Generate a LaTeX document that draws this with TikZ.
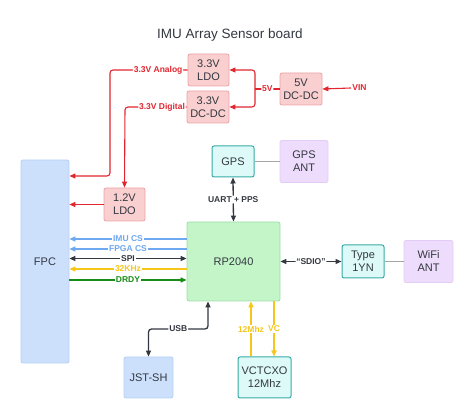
\documentclass[tikz,border=0pt]{standalone}
\usepackage{fontspec}
\setmainfont{Liberation Sans}
\usepackage{xcolor}
\usepackage{tikz}
\usetikzlibrary{shapes,arrows.meta,positioning,calc}

\definecolor{txt}{HTML}{333840}
\definecolor{pwr}{HTML}{E2262F}
\definecolor{pfill}{HTML}{F9CFCF}
\definecolor{pdraw}{HTML}{EBA3A6}
\definecolor{bfill}{HTML}{CCE0FC}
\definecolor{bdraw}{HTML}{B5CFF5}
\definecolor{gfill}{HTML}{C4F5C8}
\definecolor{gdraw}{HTML}{9EDDA6}
\definecolor{tfill}{HTML}{DDFAF8}
\definecolor{tdraw}{HTML}{36ABA5}
\definecolor{vfill}{HTML}{EDDCFB}
\definecolor{vdraw}{HTML}{E3CCF5}
\definecolor{csblue}{HTML}{6EA8F0}
\definecolor{clk}{HTML}{F6C61A}
\definecolor{drdy}{HTML}{178C17}

\begin{document}
\begin{tikzpicture}[x=1pt, y=-1pt, node distance=71pt, >={Triangle[length=6pt,width=5pt]},
  blk/.style={draw, rectangle, rounded corners=2pt, align=center, text=txt, line width=0.8pt,
    font=\fontsize{11}{13}\selectfont, inner sep=1pt},
  pbox/.style={blk, fill=pfill, draw=pdraw, minimum width=41pt, minimum height=32pt},
  bbox/.style={blk, fill=bfill, draw=bdraw},
  gbox/.style={blk, fill=gfill, draw=gdraw},
  tbox/.style={blk, fill=tfill, draw=tdraw, line width=1pt},
  vbox/.style={blk, fill=vfill, draw=vdraw, minimum width=48pt, minimum height=42pt},
  lbl/.style={fill=white, inner sep=0.8pt, font=\fontsize{8.5}{9}\selectfont\bfseries},
  pline/.style={draw=pwr, line width=1.1pt, rounded corners=3pt},
  sig/.style={line width=1.8pt},
  dline/.style={draw=txt, line width=1.3pt, rounded corners=3pt}]
\useasboundingbox (0,0) rectangle (474,419);

\node[font=\fontsize{13.5}{15}\selectfont, text=txt] (title) at (230,35) {IMU Array Sensor board};

% power
\node[pbox] (ldo33) at (208.5,70) {3.3V\\LDO};
\node[pbox, minimum width=42pt] (dcdc33) at (208,107) {3.3V\\DC-DC};
\node[pbox, minimum width=42pt] (dcdc5) at (301,89) {5V\\DC-DC};
\node[pbox, minimum height=33pt] (ldo12) at (124.5,204.5) {1.2V\\LDO};
\coordinate (vin) at (351,88);
\coordinate (split) at (255,89);
\coordinate (ana) at (110,176);
\coordinate (dig) at (125,0);

% blocks
\node[bbox, minimum width=48pt, minimum height=203pt] (fpc) at (45,261.5) {FPC};
\node[gbox, minimum width=93pt, minimum height=79pt] (rp) at (233.5,261.5) {RP2040};
\node[tbox, minimum width=42pt, minimum height=31pt] (gps) at (233,161.5) {GPS};
\node[vbox, right of=gps] (gpsant) {GPS\\ANT};
\node[tbox, minimum width=42pt, minimum height=33pt] (type) at (363,261.5) {Type\\1YN};
\node[vbox, minimum width=49pt, right of=type, node distance=65.5pt] (wifiant) {WiFi\\ANT};
\node[bbox, minimum width=49pt, minimum height=41pt] (jst) at (148.5,377.5) {JST-SH};
\node[tbox, minimum width=53pt, minimum height=41pt] (vct) at (264.5,377.5) {VCTCXO\\12Mhz};

% power rails
\draw[pline, ->] (vin) node[right, text=pwr, lbl, fill=none] {VIN} -- (dcdc5.east);
\draw[pline] (dcdc5.west) -- node[lbl, text=pwr] {5V} (split);
\draw[pline, ->] (split) |- (ldo33.east);
\draw[pline, ->] (split) |- (dcdc33.east);
\draw[pline, ->] (ldo33.west) -- node[lbl, text=pwr, pos=0.38] {3.3V Analog} (ldo33.west -| ana) -- (ana) -- (fpc.east |- ana);
\draw[pline, ->] (dcdc33.west) -- node[lbl, text=pwr, pos=0.4] {3.3V Digital} (dcdc33.west -| dig) -- (ldo12.north);
\draw[pline, ->] (ldo12.west) -- (fpc.east |- ldo12.west);

% fpc signals
\coordinate (imu) at (0,239);
\coordinate (fpga) at (0,249);
\coordinate (spi) at (0,258.5);
\coordinate (khz) at (0,269);
\coordinate (rdy) at (0,280);
\draw[sig, csblue, ->] (rp.west |- imu) -- node[lbl, text=csblue] {IMU CS} (fpc.east |- imu);
\draw[sig, csblue, ->] (rp.west |- fpga) -- node[lbl, text=csblue] {FPGA CS} (fpc.east |- fpga);
\draw[sig, txt, <->] (rp.west |- spi) -- node[lbl, text=txt] {SPI} (fpc.east |- spi);
\draw[sig, clk, ->] (rp.west |- khz) -- node[lbl, text=clk] {32KHz} (fpc.east |- khz);
\draw[sig, drdy, <-] (rp.west |- rdy) -- node[lbl, text=drdy] {DRDY} (fpc.east |- rdy);

% gps, wifi
\draw[dline, <->] (gps.south) -- node[lbl, text=txt] {UART + PPS} (rp.north);
\draw[gray!70, line width=0.8pt] (gps) -- (gpsant);
\draw[dline, <->] (rp.east) -- node[lbl, text=txt] {“SDIO”} (type.west);
\draw[gray!70, line width=0.8pt] (type) -- (wifiant);

% usb, clock
\coordinate (usb) at (208,329);
\draw[dline, <->] (jst.north) |- node[lbl, text=txt, pos=0.75] {USB} (usb) -- (rp.south -| usb);
\coordinate (xin) at (251,0);
\coordinate (xvc) at (274,0);
\draw[sig, clk, ->] (vct.north -| xin) -- node[lbl, text=clk] {12Mhz} (rp.south -| xin);
\draw[sig, clk, ->] (rp.south -| xvc) -- node[lbl, text=clk] {VC} (vct.north -| xvc);
\end{tikzpicture}
\end{document}
